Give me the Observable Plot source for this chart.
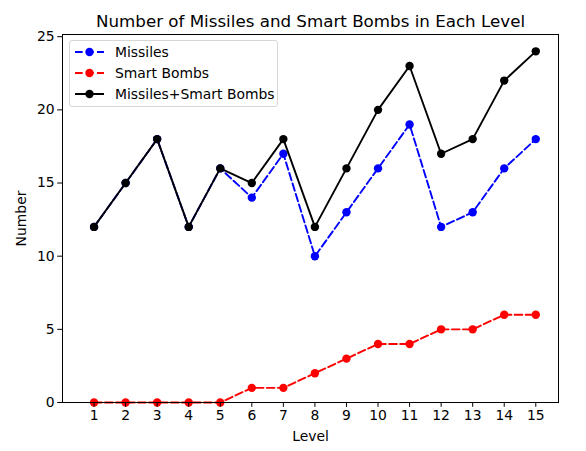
<!DOCTYPE html>
<html>
<head>
<meta charset="utf-8">
<script src="https://cdn.jsdelivr.net/npm/d3@7"></script>
<script src="https://cdn.jsdelivr.net/npm/@observablehq/plot@0.6"></script>
<style>
  body { margin: 0; background: white; }
  #chart { position: relative; width: 586px; height: 451px; font-family: "DejaVu Sans", sans-serif; }
  .legend { position: absolute; left: 69px; top: 40px; width: 209px; height: 67px; box-sizing: border-box;
    border: 1px solid #d6d6d6; border-radius: 3px; background: rgba(255,255,255,0.8); font-size: 13.9px; color: #000; }
  .legend .row { position: absolute; left: 0; height: 21px; display: flex; align-items: center; }
  .legend svg { margin-left: 4px; }
  .legend span { margin-left: 11px; }
</style>
</head>
<body>
<div id="chart"></div>
<script>
const levels = [1, 2, 3, 4, 5, 6, 7, 8, 9, 10, 11, 12, 13, 14, 15]
const missiles = [12, 15, 18, 12, 16, 14, 17, 10, 13, 16, 19, 12, 13, 16, 18]
const smartBombs = [0, 0, 0, 0, 0, 1, 1, 2, 3, 4, 4, 5, 5, 6, 6]
const totals = [12, 15, 18, 12, 16, 15, 18, 12, 16, 20, 23, 17, 18, 22, 24]
const yTicks = [0, 5, 10, 15, 20, 25]

const series = [
  {name: 'Missiles', values: missiles, color: '#0000ff', dash: '7.7,3.3'},
  {name: 'Smart Bombs', values: smartBombs, color: '#ff0000', dash: '7.7,3.3'},
  {name: 'Missiles+Smart Bombs', values: totals, color: '#000000', dash: null},
]

const rows = s => levels.map((l, i) => ({level: l, value: s.values[i]}))

const marks = []
series.forEach(s => {
  marks.push(Plot.line(rows(s), {x: 'level', y: 'value', stroke: s.color, strokeWidth: 1.9, strokeDasharray: s.dash}))
  marks.push(Plot.dot(rows(s), {x: 'level', y: 'value', fill: s.color, r: 4.2}))
})

let chart = Plot.plot({
  width: 586,
  height: 451,
  marginLeft: 62,
  marginRight: 28,
  marginTop: 34,
  marginBottom: 49,
  style: {fontFamily: '"DejaVu Sans", sans-serif', fontSize: '13.9px', color: '#000', background: 'white', overflow: 'visible'},
  x: {domain: [0, 15.72]},
  y: {domain: [0, 25.15]},
  marks: [
    ...marks,
    Plot.frame({stroke: 'black', strokeWidth: 1}),
    Plot.axisX({ticks: levels, tickSize: 4.8, tickPadding: 3, label: 'Level', labelAnchor: 'center', labelOffset: 38, labelArrow: 'none', fontSize: 13.9}),
    Plot.axisY({ticks: yTicks, tickSize: 4.8, tickPadding: 3, label: 'Number', labelAnchor: 'center', labelOffset: 46, labelArrow: 'none', fontSize: 13.9}),
    Plot.text(['Number of Missiles and Smart Bombs in Each Level'], {frameAnchor: 'top', dy: -19, fontSize: 16.7}),
  ]
})
d3.select('#chart').append(() => chart)

// legend, matplotlib style
const legend = d3.select('#chart').append('div').attr('class', 'legend')
series.forEach((s, i) => {
  const row = legend.append('div').attr('class', 'row').style('top', (i * 21) + 'px')
  const sw = row.append('svg').attr('width', 30).attr('height', 12)
  sw.append('line').attr('x1', 1).attr('x2', 30).attr('y1', 6).attr('y2', 6)
    .attr('stroke', s.color).attr('stroke-width', 2).attr('stroke-dasharray', s.dash)
  sw.append('circle').attr('cx', 15.5).attr('cy', 6).attr('r', 4.2).attr('fill', s.color)
  row.append('span').text(s.name)
})
</script>
</body>
</html>
